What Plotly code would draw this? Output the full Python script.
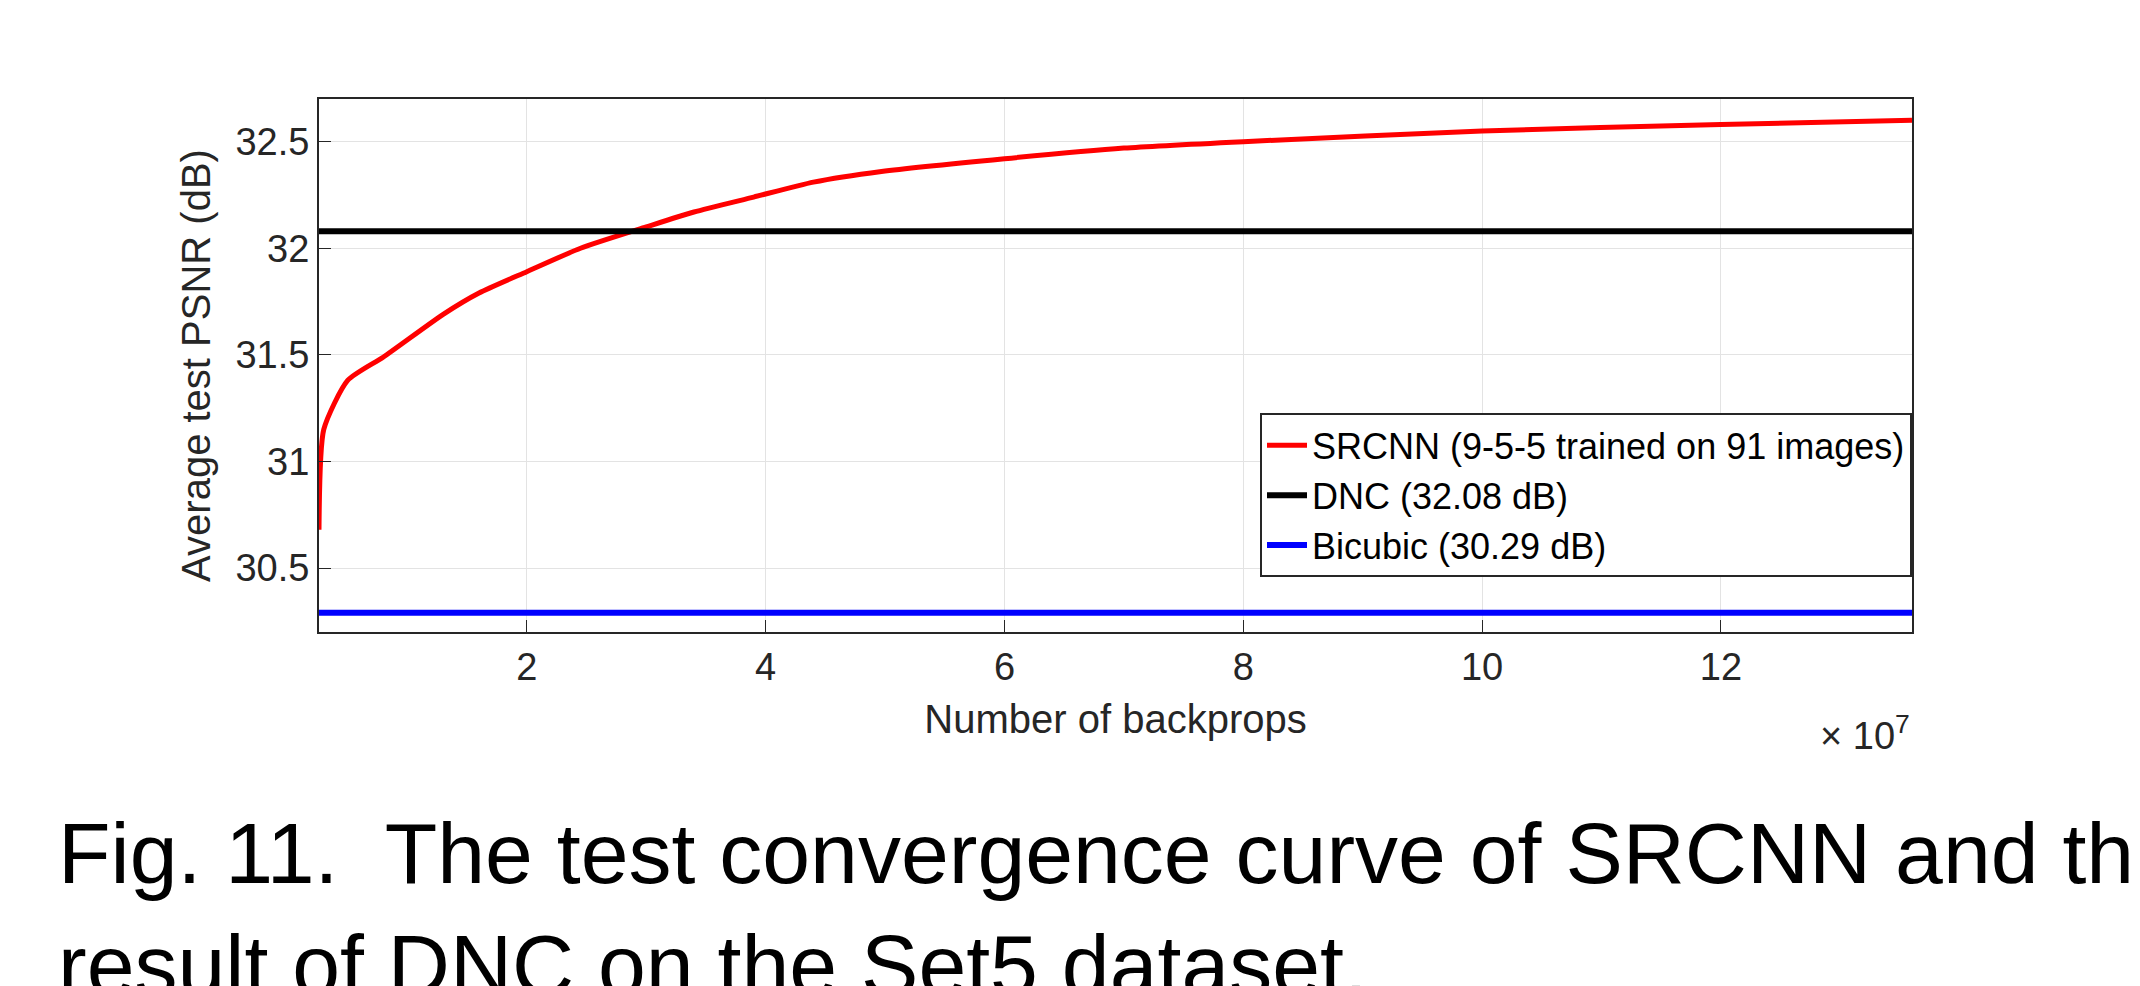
import plotly.graph_objects as go

x_srcnn = [0.26, 0.3, 0.5, 0.8, 1.3, 1.6, 2.0, 2.45, 3.0, 3.4, 3.9, 4.4, 4.97, 6.0, 7.0, 8.0, 10.0, 12.0, 13.6]
y_srcnn = [30.68, 31.15, 31.38, 31.49, 31.69, 31.79, 31.89, 32.0, 32.1, 32.17, 32.24, 32.31, 32.36, 32.42, 32.47, 32.5, 32.55, 32.58, 32.6]
x_range = [0.26, 13.6]
dnc_val = 32.08
bicubic_val = 30.29
x_ticks = [2, 4, 6, 8, 10, 12]
y_ticks = [30.5, 31, 31.5, 32, 32.5]

F = "Liberation Sans, Arial, sans-serif"
fig = go.Figure()
fig.add_trace(go.Scatter(x=x_srcnn, y=y_srcnn, mode="lines", line=dict(color="#ff0000", width=5, shape="spline", smoothing=0.6),
                         name="SRCNN (9-5-5 trained on 91 images)"))
fig.add_trace(go.Scatter(x=x_range, y=[dnc_val]*2, mode="lines", line=dict(color="black", width=6),
                         name="DNC (32.08 dB)"))
fig.add_trace(go.Scatter(x=x_range, y=[bicubic_val]*2, mode="lines", line=dict(color="#0000ff", width=6),
                         name="Bicubic (30.29 dB)"))
ax = dict(showline=True, linecolor="#262626", linewidth=2, mirror=True, ticks="inside", ticklen=12,
          tickcolor="#262626", gridcolor="#e3e3e3", zeroline=False, tickfont=dict(family=F, size=38, color="#262626"))
fig.update_layout(
    width=2140, height=986, plot_bgcolor="white", paper_bgcolor="white",
    margin=dict(l=311, r=236, t=91, b=362),
    font=dict(family=F, color="#262626"),
    xaxis=dict(range=x_range, tickvals=x_ticks, title=dict(text="Number of backprops", font=dict(size=40), standoff=18), **ax),
    yaxis=dict(range=[30.2, 32.7], tickvals=y_ticks, ticktext=["30.5", "31", "31.5", "32", "32.5"],
               title=dict(text="Average test PSNR (dB)", font=dict(size=40), standoff=12), **ax),
    legend=dict(x=1, xanchor="right", y=0.41, yanchor="top", bgcolor="white", bordercolor="#262626", borderwidth=2,
                font=dict(family=F, size=36, color="black"), tracegroupgap=0, itemwidth=40),
    showlegend=True,
)
fig.add_annotation(xref="paper", yref="paper", x=1, y=-0.14, xanchor="right", yanchor="top", showarrow=False,
                   text="× 10<sup>7</sup>", font=dict(size=38, family=F, color="#262626"))
fig.add_annotation(xref="paper", yref="paper", x=-0.165, y=-0.32, xanchor="left", yanchor="top", showarrow=False, align="left",
                   text="Fig. 11.  The test convergence curve of SRCNN and the<br>result of DNC on the Set5 dataset.",
                   font=dict(size=86, family=F, color="black"))
fig.write_html("out.html")
